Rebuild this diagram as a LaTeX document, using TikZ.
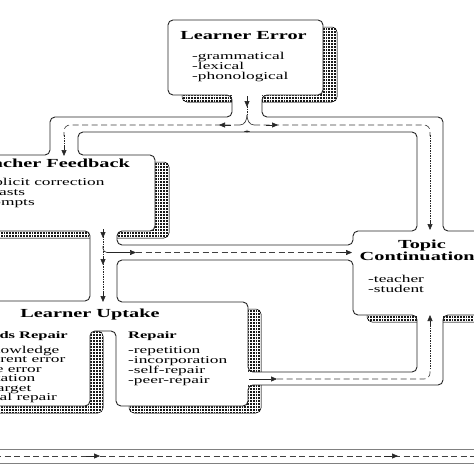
\documentclass[tikz,border=0pt]{standalone}
\usepackage{fontspec}
\setmainfont{Liberation Serif}[FakeStretch=1.65]
\usetikzlibrary{arrows.meta}
\newcommand{\shad}[1]{%
  \begin{scope}
    \clip[rounded corners=5pt] #1;
    \fill[black!90] (-40,540) rectangle (540,-40);
    \draw[white, line width=0.35pt, xstep=2.8pt, ystep=3pt] (-40,540) grid (540,-40);
  \end{scope}
  \draw[black, line width=0.5pt, rounded corners=5pt] #1;}
\begin{document}
\begin{tikzpicture}[x=1pt,y=-1pt,
  wall/.style={draw=black!85, line width=0.9pt, rounded corners=5pt},
  gline/.style={draw=black!50, line width=0.9pt},
  hdash/.style={draw=black!75, line width=0.6pt, dash pattern=on 6pt off 3.5pt},
  vdot/.style={draw=black!85, line width=0.8pt, dash pattern=on 1.5pt off 1pt},
  thinsolid/.style={draw=black!85, line width=0.6pt},
  arr/.style={draw=black!85, line width=0.6pt, -{Triangle[length=6pt,width=5pt]}},
  ttl/.style={font=\fontsize{12.3}{14}\selectfont\bfseries, inner sep=0pt},
  sub/.style={font=\fontsize{10}{10}\selectfont\bfseries, inner sep=0pt},
  itm/.style={font=\fontsize{10.5}{10}\selectfont, inner sep=0pt, anchor=base west}]
\useasboundingbox (0,0) rectangle (474,474);
\clip (0,0) rectangle (474,474);
\fill[white] (0,0) rectangle (474,474);
% shadows
\shad{(182,27) rectangle (337,102)}
\shad{(-46,162) rectangle (169,238)}
\shad{(367,238) rectangle (534,322)}
\shad{(129,309) rectangle (261,413)}
\shad{(-20,331) rectangle (103,413)}
% box interiors
\fill[white, rounded corners=5pt] (168,20) rectangle (323,95);
\fill[white, rounded corners=5pt] (-60,155) rectangle (155,231);
\fill[white, rounded corners=5pt] (353,231) rectangle (534,315);
\fill[white, rounded corners=5pt] (-20,301) -- (248,301) -- (248,406) -- (116,406) -- (116,331) -- (90,331) -- (90,406) -- (-20,406) -- cycle;
% channel interiors
\fill[white] (232,94) rectangle (262,132);
\fill[white] (50,117) rectangle (443,132);
\fill[white] (50,117) rectangle (78,156);
\fill[white] (417,117) rectangle (443,232);
\fill[white] (90,230) rectangle (117,302);
\fill[white] (117,245) rectangle (354,260);
\fill[white] (247,372) rectangle (443,385);
\fill[white] (417,314) rectangle (443,385);
% walls
\draw[wall] (-10,155) -- (50,155) -- (50,117) -- (232,117) -- (232,95) -- (168,95) -- (168,20) -- (323,20) -- (323,95) -- (262,95) -- (262,117) -- (443,117) -- (443,231) -- (490,231);
\draw[wall] (78,155) -- (155,155) -- (155,231) -- (117,231) -- (117,245) -- (353,245) -- (353,231) -- (417,231) -- (417,132) -- (254,132) to[out=180,in=-90] (247,127) to[out=-90,in=0] (240,132) -- (78,132) -- cycle;
\draw[wall] (-10,231) -- (90,231) -- (90,301) -- (-10,301);
\draw[wall] (117,302) -- (117,260) -- (353,260) -- (353,315) -- (417,315) -- (417,372) -- (248,372) -- (248,302) -- cycle;
\draw[wall] (490,315) -- (443,315) -- (443,385) -- (248,385) -- (248,406) -- (116,406) -- (116,331) -- (90,331) -- (90,406) -- (-10,406);
\draw[gline] (-5,449) -- (480,449);
\draw[gline] (-5,463) -- (480,463);
% flow from Learner Error
\draw[vdot] (247,96) -- (247,116);
\draw[arr] (247,97) -- (247,107);
\draw[thinsolid] (247,115) to[out=-90,in=0] (240,125);
\draw[thinsolid] (247,115) to[out=-90,in=180] (254,125);
\draw[hdash, rounded corners=6pt] (240,125) -- (64,125) -- (64,136);
\draw[vdot] (64,135) -- (64,150);
\draw[arr] (64,147) -- (64,156);
\draw[hdash, rounded corners=6pt] (254,125) -- (430,125) -- (430,136);
\draw[vdot] (430,135) -- (430,222);
\draw[arr] (430,221) -- (430,230);
\draw[arr] (231,125) -- (219,125);
\draw[arr] (266,125) -- (278,125);
% feedback to uptake
\draw[vdot] (103,231) -- (103,300);
\draw[arr] (103,229) -- (103,238);
\draw[arr] (103,256) -- (103,265);
\draw[arr] (103,293) -- (103,302);
\draw[thinsolid, rounded corners=4pt] (103,246) -- (103,252.5) -- (126,252.5);
\draw[arr] (124,252.5) -- (136,252.5);
\draw[hdash] (136,252.5) -- (342,252.5);
\draw[arr] (340,252.5) -- (352,252.5);
% uptake to topic
\draw[arr] (249,379) -- (277,379);
\draw[hdash, rounded corners=6pt] (277,379) -- (430,379) -- (430,368);
\draw[vdot] (430,369) -- (430,323);
\draw[arr] (430,325) -- (430,315);
% bottom channel
\draw[hdash] (-5,456) -- (480,456);
\draw[arr] (86,456) -- (100,456);
\draw[arr] (384,456) -- (398,456);
% texts
\node[ttl, anchor=base] (le) at (243.5,39.5) {Learner Error};
\node[itm] (le1) at (192,59.5) {-grammatical};
\node[itm] (le2) at (192,69.5) {-lexical};
\node[itm] (le3) at (192,79.5) {-phonological};
\node[ttl, anchor=base east] (tf) at (130,167.3) {Teacher Feedback};
\node[itm] (tf1) at (-28,185) {-explicit correction};
\node[itm] (tf2) at (-28,195) {-recasts};
\node[itm] (tf3) at (-28,205) {-prompts};
\node[ttl, anchor=base] (tc1) at (422,248.3) {Topic};
\node[ttl, anchor=base west] (tc2) at (359.5,260.7) {Continuation};
\node[itm] (tc3) at (368,282.3) {-teacher};
\node[itm] (tc4) at (368,292.3) {-student};
\node[ttl, anchor=base] (lu) at (90,317.3) {Learner Uptake};
\node[sub, anchor=base east] (nr) at (68,338.3) {Needs Repair};
\node[sub, anchor=base west] (rp) at (128,338.3) {Repair};
\node[itm] (rp1) at (128,353.3) {-repetition};
\node[itm] (rp2) at (128,363.3) {-incorporation};
\node[itm] (rp3) at (128,373.3) {-self-repair};
\node[itm] (rp4) at (128,383.3) {-peer-repair};
\node[itm] (nr1) at (-38,353) {-acknowledge};
\node[itm] (nr2) at (-38,362.5) {-different error};
\node[itm] (nr3) at (-38,372) {-same error};
\node[itm] (nr4) at (-38,381.5) {-hesitation};
\node[itm] (nr5) at (-38,391) {-off target};
\node[itm] (nr6) at (-38,400.5) {-partial repair};
\end{tikzpicture}
\end{document}
